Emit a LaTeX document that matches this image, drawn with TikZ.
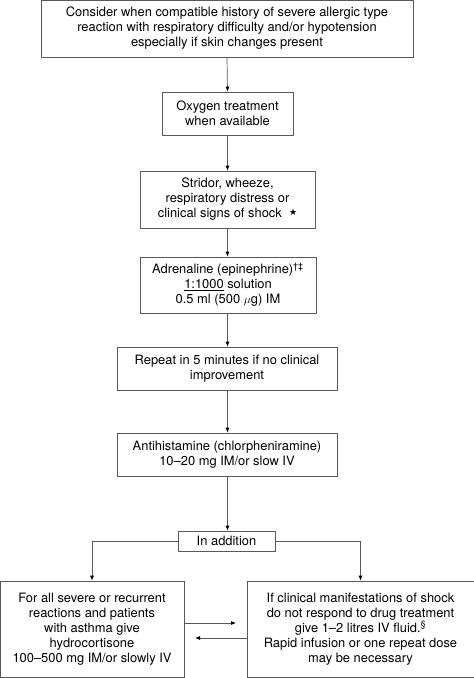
\documentclass[tikz,border=0pt]{standalone}
\usepackage{fontspec}
\setmainfont{TeX Gyre Heros}
\newfontfamily\starfont{DejaVu Sans}
\usetikzlibrary{arrows.meta, positioning}
\tikzset{
	block/.style={draw=black!65, line width=0.7pt, align=center, inner sep=2pt,
		font=\fontsize{12.9}{15}\selectfont},
	flow/.style={draw=black!65, line width=0.7pt, -{Latex[length=5pt,width=4pt,color=black]}}
}

\begin{document}
\begin{tikzpicture}[x=1pt, y=-1pt]
		\useasboundingbox (0,0) rectangle (474,678);
		
		\node[block, minimum width=372pt, minimum height=57pt] (consider) at (227,28.5)
			{Consider when compatible history of severe allergic type \\
			 reaction with respiratory difficulty and/or hypotension \\
			 especially if skin changes present};
		
		\node[block, minimum width=131pt, minimum height=43pt] (oxygen) at (227.5,113.5)
			{Oxygen treatment \\ when available};
		
		\node[block, minimum width=175pt, minimum height=57pt] (stridor) at (227.5,199.5)
			{Stridor, wheeze, \\ respiratory distress or \\
			 clinical signs of shock\ \ \raisebox{2pt}{\starfont\fontsize{9}{9}\selectfont ★}};
		
		\node[block, minimum width=176pt, minimum height=56pt] (adrenaline) at (228,285)
			{Adrenaline (epinephrine)\textsuperscript{\dag\ddag} \\
			 \underline{1:1000} solution \\ 0.5 ml (500 $\mu$g) IM};
		
		\node[block, minimum width=220pt, minimum height=43pt] (repeat) at (227,368.5)
			{Repeat in 5 minutes if no clinical \\ improvement};
		
		\node[block, minimum width=220pt, minimum height=43pt] (antihist) at (227,454.5)
			{Antihistamine (chlorpheniramine) \\ 10--20 mg IM/or slow IV};
		
		\node[block, minimum width=97pt, minimum height=20pt] (addition) at (226.5,541)
			{In addition};
		
		\node[block, minimum width=184pt, minimum height=96pt] (steroid) at (92,629)
			{For all severe or recurrent \\ reactions and patients \\
			 with asthma give \\ hydrocortisone \\ 100--500 mg IM/or slowly IV};
		
		\node[block, minimum width=227pt, minimum height=96pt] (fluid) at (360.5,629)
			{If clinical manifestations of shock \\ do not respond to drug treatment \\
			 give 1--2 litres IV fluid.\textsuperscript{\S} \\
			 Rapid infusion or one repeat dose \\ may be necessary};
		
		\coordinate (toright) at (236,623);
		\coordinate (toleft)  at (195,638);
		
		\draw[flow] (consider.south)   -- (oxygen.north);
		\draw[flow] (oxygen.south)     -- (stridor.north);
		\draw[flow] (stridor.south)    -- (adrenaline.north -| stridor.south);
		\draw[flow] (adrenaline.south -| stridor.south) -- (repeat.north -| stridor.south);
		\draw[flow] (repeat.south -| stridor.south)     -- (antihist.north -| stridor.south);
		\draw[flow] (antihist.south -| stridor.south)   -- (addition.north -| stridor.south);
		\draw[flow] (addition.west)    -| (steroid.north);
		\draw[flow] (addition.east)    -| (fluid.north);
		\draw[flow] (steroid.east |- toright) -- (toright);
		\draw[flow] (fluid.west |- toleft)    -- (toleft);
	\end{tikzpicture}
\end{document}
